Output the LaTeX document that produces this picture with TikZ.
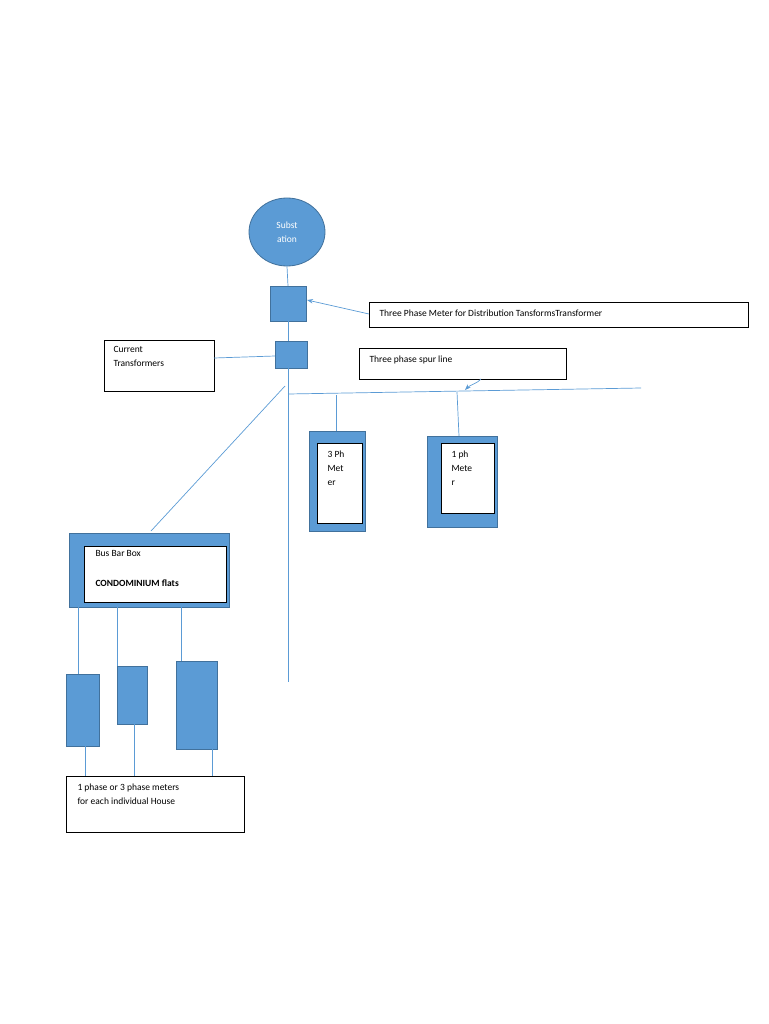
\documentclass[tikz,border=0pt]{standalone}
\usepackage{fontspec}
\setmainfont{Carlito}
\usetikzlibrary{arrows.meta,shapes.geometric}
\definecolor{bl}{HTML}{5B9BD5}
\definecolor{bd}{HTML}{41719C}
\begin{document}
\begin{tikzpicture}[x=1pt,y=-1pt,
 blk/.style={draw=bd,fill=bl,line width=0.8pt},
 wb/.style={draw=black,fill=white,line width=0.6pt},
 ln/.style={draw=bl,line width=0.7pt},
 lab/.style={font=\fontsize{9.5pt}{14pt}\selectfont,align=left,anchor=north west}]
\useasboundingbox (0,0) rectangle (768,1024);
% substation
\node[blk,ellipse,minimum width=76pt,minimum height=68pt,inner sep=0pt,text=white,align=center,font=\fontsize{9.5pt}{14pt}\selectfont] (sub) at (287,232) {Subst\\ation};
\coordinate (subb) at (287,266);
\draw[blk] (270,286) rectangle (306,321); \coordinate (m1t) at (288,286); \coordinate (m1b) at (288,321); \coordinate (m1r) at (307,300);
\draw[blk] (275,341) rectangle (307,368); \coordinate (m2t) at (288,341); \coordinate (m2b) at (288,368); \coordinate (m2l) at (275,356);
\draw[ln] (sub.south)--(m1t); \draw[ln] (m1b)--(m2t);
\coordinate (mainend) at (288,682);
\draw[ln] (m2b)--(mainend);
\coordinate (hs) at (288,394); \coordinate (he) at (641,388);
\draw[ln] (hs)--(he);
% labels
\draw[wb] (369,302) rectangle (748,327);
\node[lab] at (376,306) {Three Phase Meter for Distribution TansformsTransformer};
\draw[ln,-{Stealth[length=6pt]}] (369,314)--(m1r);
\draw[wb] (104,340) rectangle (214,391);
\node[lab] at (110,343) {Current\\Transformers};
\draw[ln] (214,358)--(m2l);
\draw[wb] (359,348) rectangle (566,379);
\node[lab] at (366,352) {Three phase spur line};
\draw[ln,-{Stealth[length=6pt]}] (481,379) .. controls (478,383) and (470,385) .. (465,390);
% 3 ph meter
\draw[ln] (336,395)--(336,431);
\draw[blk] (309,431) rectangle (365,531);
\draw[wb] (317,443) rectangle (362,523);
\node[lab] at (324,447) {3 Ph\\Met\\er};
% 1 ph meter
\draw[ln] (457,392)--(459,436);
\draw[blk] (427,436) rectangle (497,527);
\draw[wb] (441,443) rectangle (494,513);
\node[lab] at (448,447) {1 ph\\Mete\\r};
% bus bar
\draw[ln] (285,386)--(151,531);
\draw[blk] (69,533) rectangle (229,607);
\draw[wb] (84,546) rectangle (226,602);
\node[lab] at (92,547) {Bus Bar Box};
\node[lab] at (92,576) {\textbf{CONDOMINIUM flats}};
\draw[ln] (78,607)--(78,674); \draw[ln] (117,607)--(117,666); \draw[ln] (181,607)--(181,661);
\draw[blk] (66,674) rectangle (99,746);
\draw[blk] (117,666) rectangle (147,724);
\draw[blk] (176,661) rectangle (217,749);
\draw[ln] (85,746)--(85,776); \draw[ln] (134,724)--(134,776); \draw[ln] (212,749)--(212,776);
\draw[wb] (66,776) rectangle (244,832);
\node[lab] at (74,780) {1 phase or 3 phase meters\\for each individual House};
\end{tikzpicture}
\end{document}
